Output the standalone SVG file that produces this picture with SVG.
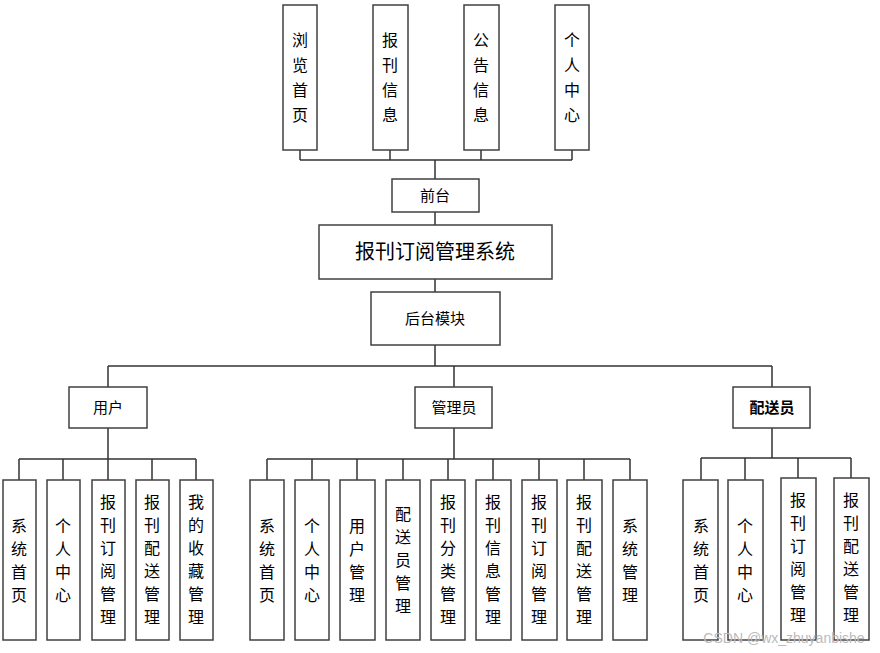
<svg xmlns="http://www.w3.org/2000/svg" width="880" height="653" viewBox="0 0 880 653">
<style>
rect{fill:#fff;stroke:#404040;stroke-width:1.5}
text{font-family:"Noto Sans CJK SC",sans-serif;fill:#000;text-anchor:middle}
.v{font-size:16px}
.r{font-size:15px}
.c path{fill:none;stroke:#333;stroke-width:1.5}
</style>
<rect width="880" height="653" style="fill:#fff;stroke:none"/>
<g class="c">
<path d="M300 150V160M390 150V160M481 150V160M572 150V160M300 160H572M435 160V179M435 212V225M435 279V292M435 345V366M108 366H772M108 366V387M454 366V387M772 366V387"/>
<path d="M108 428V459M19 459H196M19 459V480M63 459V480M108 459V480M152 459V480M196 459V480"/>
<path d="M454 428V459M267 459H630M267 459V480M312 459V480M357 459V480M403 459V480M448 459V480M493 459V480M539 459V480M584 459V480M630 459V480"/>
<path d="M772 428V458M701 458H851M701 458V480M745 458V480M798 458V478M851 458V478"/>
</g>
<g id="t1"><rect x="283" y="5" width="34" height="145"/><text class="v" x="300"><tspan x="300" y="46">浏</tspan><tspan x="300" y="71">览</tspan><tspan x="300" y="96">首</tspan><tspan x="300" y="121">页</tspan></text></g>
<g id="t2"><rect x="373" y="5" width="35" height="145"/><text class="v"><tspan x="390" y="46">报</tspan><tspan x="390" y="71">刊</tspan><tspan x="390" y="96">信</tspan><tspan x="390" y="121">息</tspan></text></g>
<g id="t3"><rect x="464" y="5" width="35" height="145"/><text class="v"><tspan x="481" y="46">公</tspan><tspan x="481" y="71">告</tspan><tspan x="481" y="96">信</tspan><tspan x="481" y="121">息</tspan></text></g>
<g id="t4"><rect x="555" y="5" width="34" height="145"/><text class="v"><tspan x="572" y="46">个</tspan><tspan x="572" y="71">人</tspan><tspan x="572" y="96">中</tspan><tspan x="572" y="121">心</tspan></text></g>
<g id="front"><rect x="392" y="179" width="87" height="33"/><text class="r" x="435" y="201">前台</text></g>
<g id="main"><rect x="319" y="225" width="233" height="54"/><text x="435" y="259" style="font-size:20px">报刊订阅管理系统</text></g>
<g id="back"><rect x="371" y="292" width="129" height="53"/><text class="r" x="435" y="324">后台模块</text></g>
<g id="user"><rect x="69" y="387" width="78" height="41"/><text class="r" x="108" y="413">用户</text></g>
<g id="admin"><rect x="415" y="387" width="77" height="41"/><text class="r" x="454" y="413">管理员</text></g>
<g id="deliv"><rect x="733" y="387" width="77" height="41"/><text class="r" x="772" y="413" style="font-weight:bold">配送员</text></g>
<g id="u1"><rect x="3" y="480" width="33" height="160"/><text class="v"><tspan x="19" y="532">系</tspan><tspan x="19" y="555">统</tspan><tspan x="19" y="578">首</tspan><tspan x="19" y="601">页</tspan></text></g>
<g id="u2"><rect x="47" y="480" width="33" height="160"/><text class="v"><tspan x="63" y="532">个</tspan><tspan x="63" y="555">人</tspan><tspan x="63" y="578">中</tspan><tspan x="63" y="601">心</tspan></text></g>
<g id="u3"><rect x="92" y="480" width="33" height="160"/><text class="v"><tspan x="108" y="508">报</tspan><tspan x="108" y="531">刊</tspan><tspan x="108" y="554">订</tspan><tspan x="108" y="577">阅</tspan><tspan x="108" y="600">管</tspan><tspan x="108" y="623">理</tspan></text></g>
<g id="u4"><rect x="136" y="480" width="33" height="160"/><text class="v"><tspan x="152" y="508">报</tspan><tspan x="152" y="531">刊</tspan><tspan x="152" y="554">配</tspan><tspan x="152" y="577">送</tspan><tspan x="152" y="600">管</tspan><tspan x="152" y="623">理</tspan></text></g>
<g id="u5"><rect x="180" y="480" width="33" height="160"/><text class="v"><tspan x="196" y="508">我</tspan><tspan x="196" y="531">的</tspan><tspan x="196" y="554">收</tspan><tspan x="196" y="577">藏</tspan><tspan x="196" y="600">管</tspan><tspan x="196" y="623">理</tspan></text></g>
<g id="a1"><rect x="250" y="480" width="34" height="160"/><text class="v"><tspan x="267" y="532">系</tspan><tspan x="267" y="555">统</tspan><tspan x="267" y="578">首</tspan><tspan x="267" y="601">页</tspan></text></g>
<g id="a2"><rect x="295" y="480" width="34" height="160"/><text class="v"><tspan x="312" y="532">个</tspan><tspan x="312" y="555">人</tspan><tspan x="312" y="578">中</tspan><tspan x="312" y="601">心</tspan></text></g>
<g id="a3"><rect x="340" y="480" width="35" height="160"/><text class="v"><tspan x="357" y="532">用</tspan><tspan x="357" y="555">户</tspan><tspan x="357" y="578">管</tspan><tspan x="357" y="601">理</tspan></text></g>
<g id="a4"><rect x="386" y="480" width="34" height="160"/><text class="v"><tspan x="403" y="520">配</tspan><tspan x="403" y="543">送</tspan><tspan x="403" y="566">员</tspan><tspan x="403" y="589">管</tspan><tspan x="403" y="612">理</tspan></text></g>
<g id="a5"><rect x="431" y="480" width="34" height="160"/><text class="v"><tspan x="448" y="508">报</tspan><tspan x="448" y="531">刊</tspan><tspan x="448" y="554">分</tspan><tspan x="448" y="577">类</tspan><tspan x="448" y="600">管</tspan><tspan x="448" y="623">理</tspan></text></g>
<g id="a6"><rect x="476" y="480" width="35" height="160"/><text class="v"><tspan x="493" y="508">报</tspan><tspan x="493" y="531">刊</tspan><tspan x="493" y="554">信</tspan><tspan x="493" y="577">息</tspan><tspan x="493" y="600">管</tspan><tspan x="493" y="623">理</tspan></text></g>
<g id="a7"><rect x="522" y="480" width="35" height="160"/><text class="v"><tspan x="539" y="508">报</tspan><tspan x="539" y="531">刊</tspan><tspan x="539" y="554">订</tspan><tspan x="539" y="577">阅</tspan><tspan x="539" y="600">管</tspan><tspan x="539" y="623">理</tspan></text></g>
<g id="a8"><rect x="567" y="480" width="35" height="160"/><text class="v"><tspan x="584" y="508">报</tspan><tspan x="584" y="531">刊</tspan><tspan x="584" y="554">配</tspan><tspan x="584" y="577">送</tspan><tspan x="584" y="600">管</tspan><tspan x="584" y="623">理</tspan></text></g>
<g id="a9"><rect x="613" y="480" width="34" height="160"/><text class="v"><tspan x="630" y="532">系</tspan><tspan x="630" y="555">统</tspan><tspan x="630" y="578">管</tspan><tspan x="630" y="601">理</tspan></text></g>
<g id="d1"><rect x="683" y="480" width="35" height="160"/><text class="v"><tspan x="701" y="532">系</tspan><tspan x="701" y="555">统</tspan><tspan x="701" y="578">首</tspan><tspan x="701" y="601">页</tspan></text></g>
<g id="d2"><rect x="728" y="480" width="35" height="160"/><text class="v"><tspan x="745" y="532">个</tspan><tspan x="745" y="555">人</tspan><tspan x="745" y="578">中</tspan><tspan x="745" y="601">心</tspan></text></g>
<g id="d3"><rect x="781" y="478" width="35" height="162"/><text class="v"><tspan x="798" y="506">报</tspan><tspan x="798" y="529">刊</tspan><tspan x="798" y="552">订</tspan><tspan x="798" y="575">阅</tspan><tspan x="798" y="598">管</tspan><tspan x="798" y="621">理</tspan></text></g>
<g id="d4"><rect x="834" y="478" width="35" height="162"/><text class="v"><tspan x="851" y="506">报</tspan><tspan x="851" y="529">刊</tspan><tspan x="851" y="552">配</tspan><tspan x="851" y="575">送</tspan><tspan x="851" y="598">管</tspan><tspan x="851" y="621">理</tspan></text></g>
<text x="784" y="643" style="font-family:'Liberation Sans',sans-serif;font-size:14px;fill:#bbb">CSDN @wx_zhuyanbishe</text>
</svg>
